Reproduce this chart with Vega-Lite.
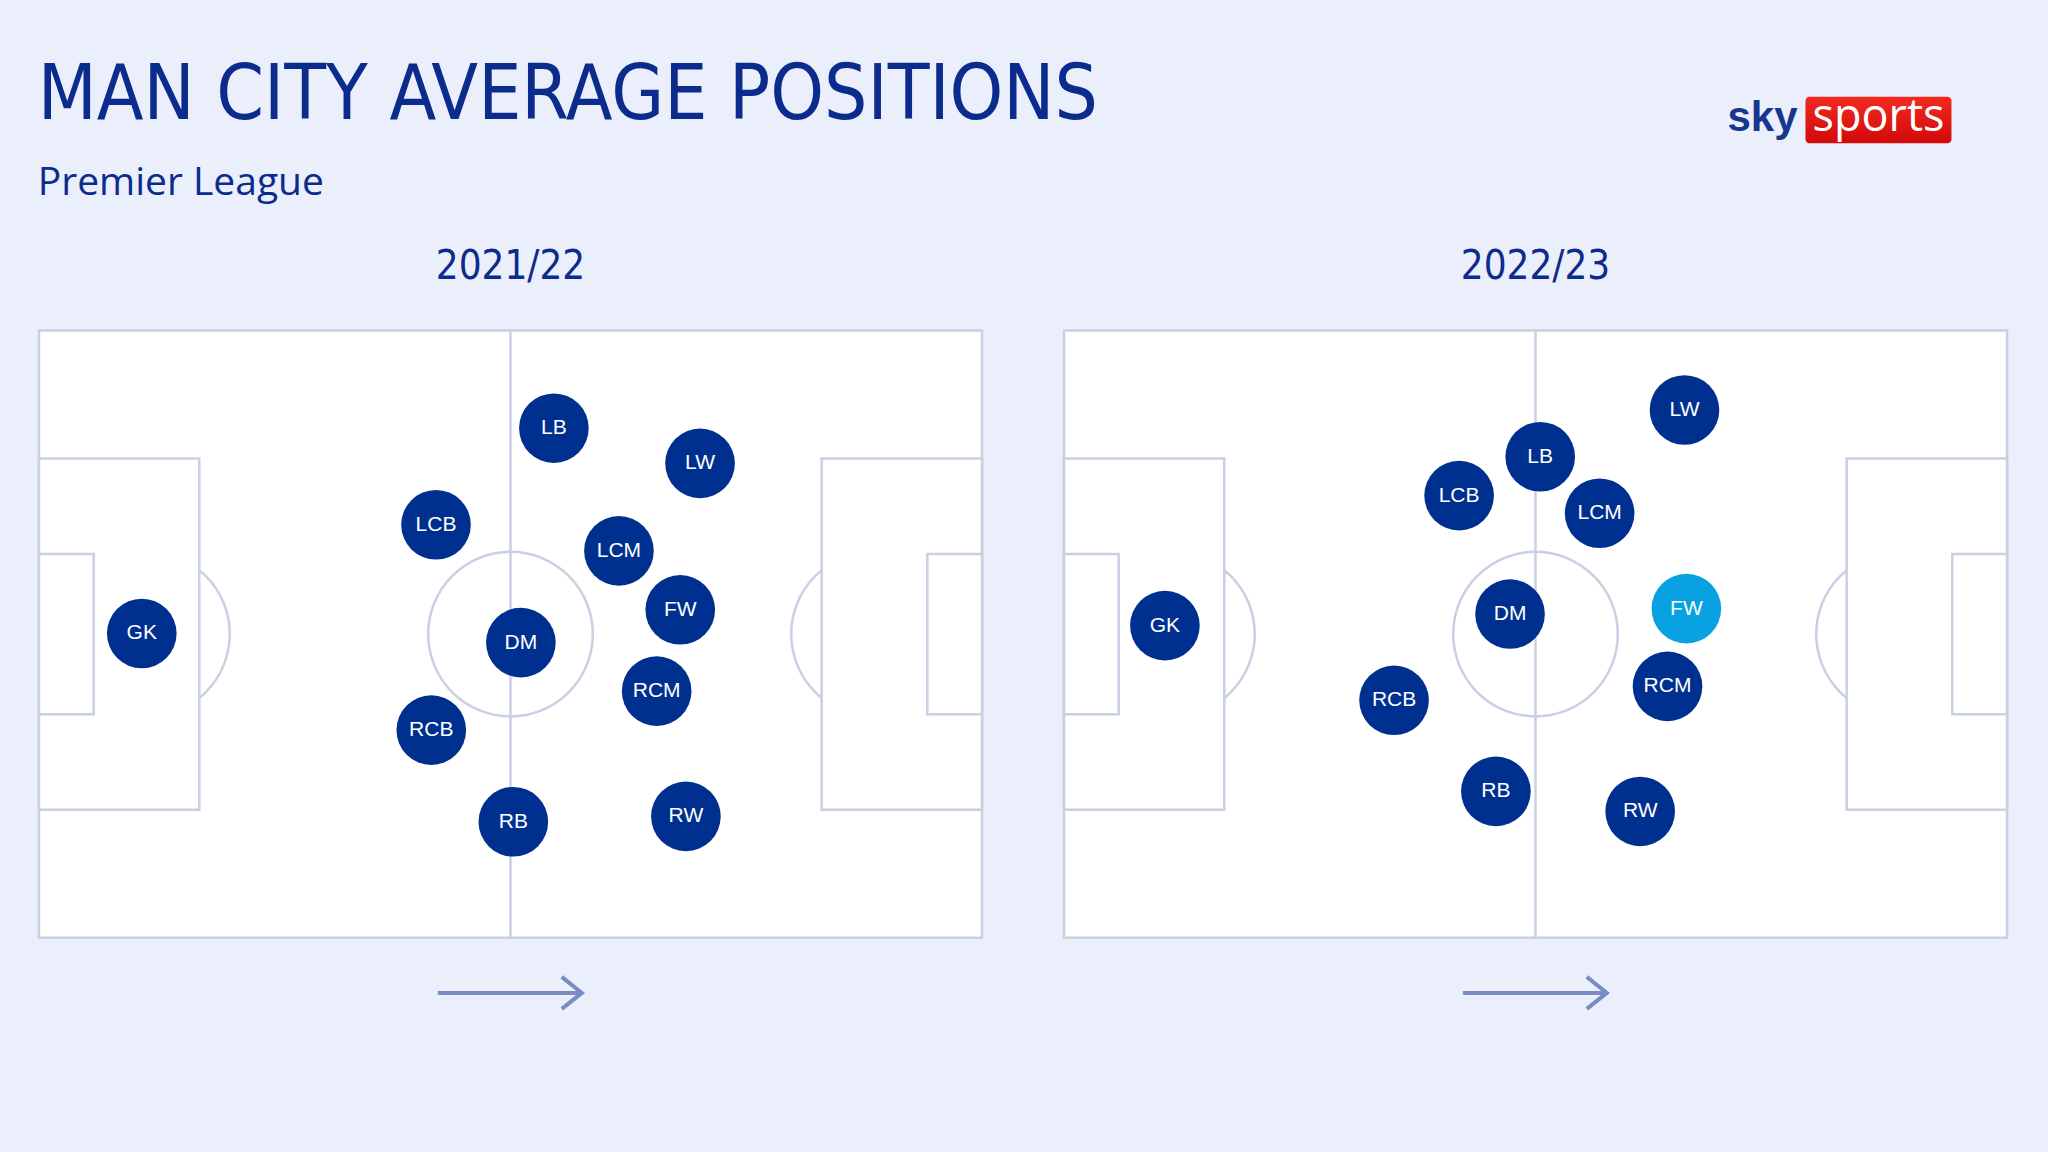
{
  "$schema": "https://vega.github.io/schema/vega-lite/v6.json",
  "background": "#ebeefb",
  "padding": {"left": 37, "right": 39, "top": 0, "bottom": 0},
  "title": {
    "text": "MAN CITY AVERAGE POSITIONS",
    "subtitle": "Premier League",
    "anchor": "start",
    "font": "Liberation Sans Narrow, DejaVu Sans Condensed, Liberation Sans",
    "fontSize": 76,
    "fontWeight": "normal",
    "color": "#0b2c8c",
    "subtitleFont": "Open Sans",
    "subtitleFontSize": 39,
    "subtitleFontWeight": "normal",
    "subtitleColor": "#0b2c8c",
    "subtitlePadding": 29,
    "offset": -204
  },
  "datasets": {
    "pitch": [
      {"kind": "outer", "x": 0, "x2": 100, "y": 0, "y2": 100},
      {"kind": "centre", "x": 50, "y": 50},
      {"kind": "spot", "x": 11.5, "y": 50},
      {"kind": "spot", "x": 88.5, "y": 50},
      {"kind": "half", "x": 50, "y": 0, "y2": 100},
      {"kind": "box", "x": 0, "x2": 17, "y": 21.1, "y2": 78.9},
      {"kind": "box", "x": 83, "x2": 100, "y": 21.1, "y2": 78.9},
      {"kind": "six", "x": 0, "x2": 5.8, "y": 36.8, "y2": 63.2},
      {"kind": "six", "x": 94.2, "x2": 100, "y": 36.8, "y2": 63.2}
    ],
    "players": [
      {"season": "2021/22", "pos": "GK", "x": 10.9, "y": 50.1, "hl": "no"},
      {"season": "2021/22", "pos": "LB", "x": 54.6, "y": 83.9, "hl": "no"},
      {"season": "2021/22", "pos": "LW", "x": 70.1, "y": 78.1, "hl": "no"},
      {"season": "2021/22", "pos": "LCB", "x": 42.1, "y": 68.0, "hl": "no"},
      {"season": "2021/22", "pos": "LCM", "x": 61.5, "y": 63.7, "hl": "no"},
      {"season": "2021/22", "pos": "FW", "x": 68.0, "y": 54.0, "hl": "no"},
      {"season": "2021/22", "pos": "DM", "x": 51.1, "y": 48.6, "hl": "no"},
      {"season": "2021/22", "pos": "RCM", "x": 65.5, "y": 40.6, "hl": "no"},
      {"season": "2021/22", "pos": "RCB", "x": 41.6, "y": 34.2, "hl": "no"},
      {"season": "2021/22", "pos": "RB", "x": 50.3, "y": 19.1, "hl": "no"},
      {"season": "2021/22", "pos": "RW", "x": 68.6, "y": 20.0, "hl": "no"},
      {"season": "2022/23", "pos": "GK", "x": 10.7, "y": 51.4, "hl": "no"},
      {"season": "2022/23", "pos": "LW", "x": 65.8, "y": 86.9, "hl": "no"},
      {"season": "2022/23", "pos": "LB", "x": 50.5, "y": 79.2, "hl": "no"},
      {"season": "2022/23", "pos": "LCB", "x": 41.9, "y": 72.8, "hl": "no"},
      {"season": "2022/23", "pos": "LCM", "x": 56.8, "y": 69.9, "hl": "no"},
      {"season": "2022/23", "pos": "DM", "x": 47.3, "y": 53.3, "hl": "no"},
      {"season": "2022/23", "pos": "FW", "x": 66.0, "y": 54.2, "hl": "yes"},
      {"season": "2022/23", "pos": "RCB", "x": 35.0, "y": 39.1, "hl": "no"},
      {"season": "2022/23", "pos": "RCM", "x": 64.0, "y": 41.4, "hl": "no"},
      {"season": "2022/23", "pos": "RB", "x": 45.8, "y": 24.1, "hl": "no"},
      {"season": "2022/23", "pos": "RW", "x": 61.1, "y": 20.8, "hl": "no"}
    ]
  },
  "config": {"view": {"stroke": null}},
  "spacing": 82,
  "bounds": "flush",
  "hconcat": [
    {
      "width": 943,
      "height": 1152,
      "layer": [
        {
          "data": {"name": "pitch"},
          "transform": [{"filter": "datum.kind === 'outer'"}],
          "mark": {"type": "rect", "fill": "white", "stroke": "#c8d0e3", "strokeWidth": 2.5},
          "encoding": {
            "x": {"field": "x", "type": "quantitative", "axis": null, "scale": {"domain": [0, 100], "nice": false, "zero": false}},
            "x2": {"field": "x2"},
            "y": {"field": "y", "type": "quantitative", "axis": null, "scale": {"domain": [-35.27, 154.4], "nice": false, "zero": false}},
            "y2": {"field": "y2"}
          }
        },
        {
          "data": {"name": "pitch"},
          "transform": [{"filter": "datum.kind === 'centre' || datum.kind === 'spot'"}],
          "mark": {"type": "point", "shape": "circle", "filled": false, "color": "#c8d0e3", "strokeWidth": 2.5, "size": 27100, "opacity": 1},
          "encoding": {
            "x": {"field": "x", "type": "quantitative", "axis": null},
            "y": {"field": "y", "type": "quantitative", "axis": null}
          }
        },
        {
          "data": {"name": "pitch"},
          "transform": [{"filter": "datum.kind === 'half'"}],
          "mark": {"type": "rule", "color": "#c8d0e3", "strokeWidth": 2.5},
          "encoding": {
            "x": {"field": "x", "type": "quantitative", "axis": null},
            "y": {"field": "y", "type": "quantitative", "axis": null},
            "y2": {"field": "y2"}
          }
        },
        {
          "data": {"name": "pitch"},
          "transform": [{"filter": "datum.kind === 'box' || datum.kind === 'six'"}],
          "mark": {"type": "rect", "fill": "white", "stroke": "#c8d0e3", "strokeWidth": 2.5},
          "encoding": {
            "x": {"field": "x", "type": "quantitative", "axis": null},
            "x2": {"field": "x2"},
            "y": {"field": "y", "type": "quantitative", "axis": null},
            "y2": {"field": "y2"}
          }
        },
        {
          "data": {"values": [{}]},
          "mark": {"type": "rule", "color": "#7a8cc6", "strokeWidth": 4},
          "encoding": {
            "x": {"datum": 42.3, "type": "quantitative", "axis": null},
            "x2": {"datum": 57.3},
            "y": {"datum": -9.08, "type": "quantitative", "axis": null}
          }
        },
        {
          "data": {"values": [{}]},
          "mark": {"type": "point", "shape": "M-0.625,-1L0.625,0L-0.625,1", "filled": false, "color": "#7a8cc6", "strokeWidth": 4, "size": 1024, "opacity": 1, "strokeJoin": "miter", "strokeCap": "butt"},
          "encoding": {
            "x": {"datum": 56.5, "type": "quantitative", "axis": null},
            "y": {"datum": -9.08, "type": "quantitative", "axis": null}
          }
        },
        {
          "data": {"values": [{}]},
          "mark": {"type": "text", "font": "Liberation Sans Narrow, DejaVu Sans Condensed, Liberation Sans", "fontSize": 40, "color": "#0b2c8c", "align": "center", "baseline": "alphabetic"},
          "encoding": {
            "x": {"datum": 50, "type": "quantitative", "axis": null},
            "y": {"datum": 108.47, "type": "quantitative", "axis": null},
            "text": {"value": "2021/22"}
          }
        },
        {
          "data": {"name": "players"},
          "transform": [{"filter": "datum.season === '2021/22'"}],
          "mark": {"type": "circle", "size": 4850, "opacity": 1},
          "encoding": {
            "x": {"field": "x", "type": "quantitative", "axis": null},
            "y": {"field": "y", "type": "quantitative", "axis": null},
            "color": {"field": "hl", "type": "nominal", "legend": null, "scale": {"domain": ["no", "yes"], "range": ["#00308f", "#08a2e2"]}}
          }
        },
        {
          "data": {"name": "players"},
          "transform": [{"filter": "datum.season === '2021/22'"}],
          "mark": {"type": "text", "font": "Liberation Sans", "fontSize": 21, "color": "white", "align": "center", "baseline": "middle"},
          "encoding": {
            "x": {"field": "x", "type": "quantitative", "axis": null},
            "y": {"field": "y", "type": "quantitative", "axis": null},
            "text": {"field": "pos"}
          }
        }
      ]
    },
    {
      "width": 943,
      "height": 1152,
      "layer": [
        {
          "data": {"name": "pitch"},
          "transform": [{"filter": "datum.kind === 'outer'"}],
          "mark": {"type": "rect", "fill": "white", "stroke": "#c8d0e3", "strokeWidth": 2.5},
          "encoding": {
            "x": {"field": "x", "type": "quantitative", "axis": null, "scale": {"domain": [0, 100], "nice": false, "zero": false}},
            "x2": {"field": "x2"},
            "y": {"field": "y", "type": "quantitative", "axis": null, "scale": {"domain": [-35.27, 154.4], "nice": false, "zero": false}},
            "y2": {"field": "y2"}
          }
        },
        {
          "data": {"name": "pitch"},
          "transform": [{"filter": "datum.kind === 'centre' || datum.kind === 'spot'"}],
          "mark": {"type": "point", "shape": "circle", "filled": false, "color": "#c8d0e3", "strokeWidth": 2.5, "size": 27100, "opacity": 1},
          "encoding": {
            "x": {"field": "x", "type": "quantitative", "axis": null},
            "y": {"field": "y", "type": "quantitative", "axis": null}
          }
        },
        {
          "data": {"name": "pitch"},
          "transform": [{"filter": "datum.kind === 'half'"}],
          "mark": {"type": "rule", "color": "#c8d0e3", "strokeWidth": 2.5},
          "encoding": {
            "x": {"field": "x", "type": "quantitative", "axis": null},
            "y": {"field": "y", "type": "quantitative", "axis": null},
            "y2": {"field": "y2"}
          }
        },
        {
          "data": {"name": "pitch"},
          "transform": [{"filter": "datum.kind === 'box' || datum.kind === 'six'"}],
          "mark": {"type": "rect", "fill": "white", "stroke": "#c8d0e3", "strokeWidth": 2.5},
          "encoding": {
            "x": {"field": "x", "type": "quantitative", "axis": null},
            "x2": {"field": "x2"},
            "y": {"field": "y", "type": "quantitative", "axis": null},
            "y2": {"field": "y2"}
          }
        },
        {
          "data": {"values": [{}]},
          "mark": {"type": "rule", "color": "#7a8cc6", "strokeWidth": 4},
          "encoding": {
            "x": {"datum": 42.3, "type": "quantitative", "axis": null},
            "x2": {"datum": 57.3},
            "y": {"datum": -9.08, "type": "quantitative", "axis": null}
          }
        },
        {
          "data": {"values": [{}]},
          "mark": {"type": "point", "shape": "M-0.625,-1L0.625,0L-0.625,1", "filled": false, "color": "#7a8cc6", "strokeWidth": 4, "size": 1024, "opacity": 1, "strokeJoin": "miter", "strokeCap": "butt"},
          "encoding": {
            "x": {"datum": 56.5, "type": "quantitative", "axis": null},
            "y": {"datum": -9.08, "type": "quantitative", "axis": null}
          }
        },
        {
          "data": {"values": [{}]},
          "mark": {"type": "text", "font": "Liberation Sans Narrow, DejaVu Sans Condensed, Liberation Sans", "fontSize": 40, "color": "#0b2c8c", "align": "center", "baseline": "alphabetic"},
          "encoding": {
            "x": {"datum": 50, "type": "quantitative", "axis": null},
            "y": {"datum": 108.47, "type": "quantitative", "axis": null},
            "text": {"value": "2022/23"}
          }
        },
        {
          "data": {"values": [{}]},
          "mark": {"type": "rect", "cornerRadius": 4, "color": {"gradient": "linear", "x1": 0, "y1": 0, "x2": 0, "y2": 1, "stops": [{"offset": 0, "color": "#f22a1f"}, {"offset": 1, "color": "#d10a0a"}]}},
          "encoding": {
            "x": {"datum": 78.63, "type": "quantitative", "axis": null},
            "x2": {"datum": 94.11},
            "y": {"datum": 138.48, "type": "quantitative", "axis": null},
            "y2": {"datum": 130.81}
          }
        },
        {
          "data": {"values": [{}]},
          "mark": {"type": "text", "font": "Liberation Sans", "fontWeight": "bold", "fontSize": 42, "color": "#18368c", "align": "left", "baseline": "alphabetic"},
          "encoding": {
            "x": {"datum": 70.36, "type": "quantitative", "axis": null},
            "y": {"datum": 132.83, "type": "quantitative", "axis": null},
            "text": {"value": "sky"}
          }
        },
        {
          "data": {"values": [{}]},
          "mark": {"type": "text", "font": "Open Sans", "fontSize": 45, "color": "white", "align": "center", "baseline": "alphabetic"},
          "encoding": {
            "x": {"datum": 86.37, "type": "quantitative", "axis": null},
            "y": {"datum": 132.83, "type": "quantitative", "axis": null},
            "text": {"value": "sports"}
          }
        },
        {
          "data": {"name": "players"},
          "transform": [{"filter": "datum.season === '2022/23'"}],
          "mark": {"type": "circle", "size": 4850, "opacity": 1},
          "encoding": {
            "x": {"field": "x", "type": "quantitative", "axis": null},
            "y": {"field": "y", "type": "quantitative", "axis": null},
            "color": {"field": "hl", "type": "nominal", "legend": null, "scale": {"domain": ["no", "yes"], "range": ["#00308f", "#08a2e2"]}}
          }
        },
        {
          "data": {"name": "players"},
          "transform": [{"filter": "datum.season === '2022/23'"}],
          "mark": {"type": "text", "font": "Liberation Sans", "fontSize": 21, "color": "white", "align": "center", "baseline": "middle"},
          "encoding": {
            "x": {"field": "x", "type": "quantitative", "axis": null},
            "y": {"field": "y", "type": "quantitative", "axis": null},
            "text": {"field": "pos"}
          }
        }
      ]
    }
  ]
}
